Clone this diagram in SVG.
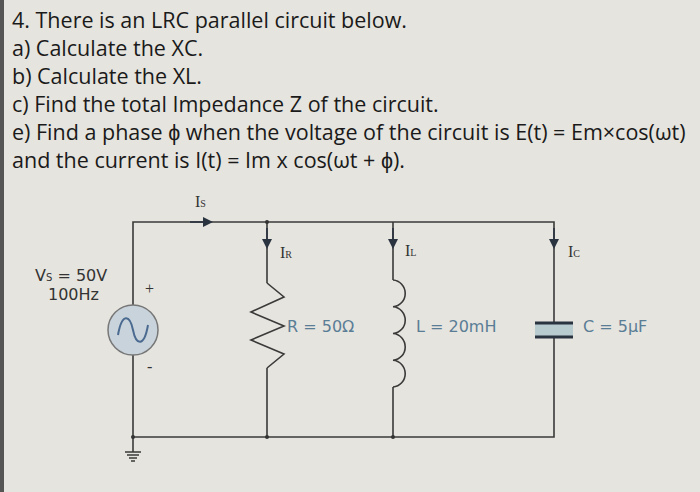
<svg xmlns="http://www.w3.org/2000/svg" width="700" height="492" viewBox="0 0 700 492">
<style>
.t{font-family:"Open Sans","Liberation Sans",sans-serif;font-size:21.5px;fill:#1a1a1a}
.w{stroke:#3a3a3a;stroke-width:1.6;fill:none}
.l{font-family:"DejaVu Sans","Liberation Sans",sans-serif;font-size:16px;fill:#5a7d96}
.s{font-family:"Liberation Serif",serif;font-size:16px;fill:#333}
.b{font-size:10px}
</style>
<defs><marker id="a" markerWidth="10" markerHeight="10" refX="5" refY="5" orient="auto" markerUnits="userSpaceOnUse"><path d="M0,0 L10,5 L0,10 Z" fill="#2a3340"/></marker></defs>
<rect width="700" height="492" fill="#e6e4de"/>
<rect x="0" y="0" width="4" height="492" fill="#555"/>
<g id="text">
<text class="t" x="12" y="28">4. There is an LRC parallel circuit below.</text>
<text class="t" x="12" y="56">a) Calculate the XC.</text>
<text class="t" x="12" y="84">b) Calculate the XL.</text>
<text class="t" x="12" y="112">c) Find the total Impedance Z of the circuit.</text>
<text class="t" x="12" y="140">e) Find a phase ϕ when the voltage of the circuit is E(t) = Em×cos(ωt)</text>
<text class="t" x="12" y="168">and the current is I(t) = Im x cos(ωt + ϕ).</text>
</g>
<g id="connectors">
<path class="w" d="M133,305 V222 H554 V323 M554,337 V437 H133 V355"/>
<path class="w" d="M267,222 V283 M267,368 V437"/>
<path class="w" d="M393,222 V280 M393,387 V437"/>
<path class="w" d="M133,437 V452"/>
<path d="M190,222 h18" stroke="#2a3340" stroke-width="1.6" marker-end="url(#a)"/>
<path d="M267,228 v16" stroke="#2a3340" stroke-width="1.6" marker-end="url(#a)"/>
<path d="M393,228 v16" stroke="#2a3340" stroke-width="1.6" marker-end="url(#a)"/>
<path d="M554,228 v16" stroke="#2a3340" stroke-width="1.6" marker-end="url(#a)"/>
<circle cx="267" cy="222" r="2" fill="#333"/><circle cx="393" cy="437" r="2" fill="#333"/>
<circle cx="267" cy="437" r="2" fill="#333"/><circle cx="133" cy="437" r="2" fill="#333"/>
</g>
<g id="source">
<circle cx="133" cy="330" r="25" fill="#c9d3dc" stroke="#777" stroke-width="1.5"/>
<path d="M118,335 C122,312 130,315 133,330 C136,345 144,348 148,325" stroke="#4a6a90" stroke-width="2" fill="none"/>
<text class="l" x="35" y="281" style="fill:#333">V<tspan class="b">S</tspan> = 50V</text>
<text class="l" x="48" y="300" style="fill:#333">100Hz</text>
<text class="s" x="145" y="294">+</text><text class="s" x="147" y="372">-</text>
<path class="w" d="M125,452 h16 M127,455 h12 M129,458 h8 M131,461 h4"/>
<text class="s" x="195" y="207">I<tspan class="b">S</tspan></text>
</g>
<g id="R">
<path class="w" d="M267,283 L284,297 L251,312 L284,326 L251,340 L284,354 L267,368"/>
<text class="s" x="280" y="258">I<tspan class="b">R</tspan></text>
<text class="l" x="287" y="332">R = 50Ω</text>
</g>
<g id="L">
<path class="w" d="M393,280 a13,13.4 0 0 1 0,26.75 a13,13.4 0 0 1 0,26.75 a13,13.4 0 0 1 0,26.75 a13,13.4 0 0 1 0,26.75"/>
<text class="s" x="405" y="256">I<tspan class="b">L</tspan></text>
<text class="l" x="416" y="332">L = 20mH</text>
</g>
<g id="C">
<rect x="535" y="323" width="38" height="14" fill="#b8cbcf"/>
<path d="M535,323 h38 M535,337 h38" stroke="#2a3340" stroke-width="3"/>
<text class="s" x="568" y="257">I<tspan class="b">C</tspan></text>
<text class="l" x="583" y="332">C = 5μF</text>
</g>
</svg>
